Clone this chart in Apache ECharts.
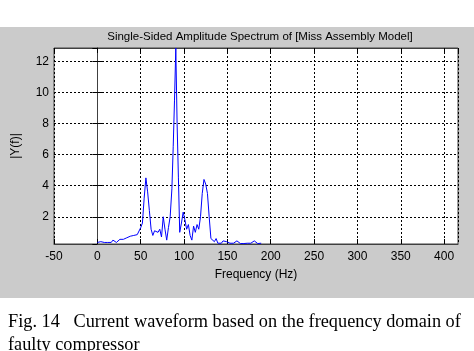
<!DOCTYPE html>
<html>
<head>
<meta charset="utf-8">
<script src="https://cdn.jsdelivr.net/npm/echarts@6/dist/echarts.min.js"></script>
<style>
  html, body { margin: 0; padding: 0; background: #fff; }
  #chart { width: 474px; height: 351px; }
</style>
</head>
<body>
<div id="chart"></div>
<script>
// (Hz / |Y(f)|)
const freqHz = [
  0, 2, 4, 6, 8, 10, 12, 14, 16, 18, 20, 22, 24, 26, 28, 30, 32, 34, 36, 38,
  40, 42, 44, 46, 48, 50, 52, 54, 56, 58, 60, 62, 64, 66, 68, 70, 72, 74, 76, 78,
  80, 82, 84, 86, 87.5, 89, 90.5, 92, 93.5, 95, 97, 99, 101, 103, 105, 107, 109, 111, 113, 115,
  117, 119, 121, 123, 125, 127, 129, 131, 133, 135, 137, 139, 141, 143, 145, 147, 149, 151, 153, 155,
  157, 159, 161, 163, 165, 167, 169, 171, 173, 175, 177, 179, 181, 183, 185, 187, 189
];
const amplitude = [
  0.35, 0.3, 0.4, 0.3, 0.35, 0.45, 0.35, 0.3, 0.35, 0.5, 0.4, 0.35, 0.45, 0.55, 0.6, 0.55, 0.65, 0.65, 0.7, 0.75,
  0.7, 0.8, 0.75, 0.85, 0.8, 1.3, 1.6, 3.2, 4.5, 3.6, 2.4, 1.2, 0.8, 1.1, 1.2, 1.0, 1.2, 0.7, 2.0, 1.2,
  0.5, 1.3, 2.0, 3.8, 6.5, 9.5, 12.85, 8.0, 4.5, 1.0, 1.6, 2.3, 1.8, 1.2, 1.5, 0.8, 0.5, 1.4, 1.0, 1.5,
  1.2, 2.0, 3.5, 4.4, 4.1, 3.5, 2.0, 0.6, 0.5, 0.4, 0.6, 0.3, 0.28, 0.3, 0.45, 0.55, 0.4, 0.28, 0.3, 0.28,
  0.3, 0.35, 0.45, 0.4, 0.28, 0.3, 0.28, 0.28, 0.3, 0.28, 0.3, 0.4, 0.45, 0.35, 0.28, 0.3, 0.3
];
const xTicks = { min: -50, max: 416, step: 50 };
const yRange = { min: 0.25, max: 12.85 };

const titleText = 'Single-Sided Amplitude Spectrum of [Miss Assembly Model]';
const captionLines = [
  'Fig. 14   Current waveform based on the frequency domain of',
  'faulty compressor'
];

let myChart = echarts.init(document.getElementById('chart'));

const gridDash = { color: '#000', width: 1, type: [2, 2] };
const frame = { color: '#404040', width: 1 };
const sans = 'Liberation Sans';

let option = {
  animation: false,
  backgroundColor: '#fff',
  title: {
    text: titleText,
    left: 255,
    top: 26,
    textAlign: 'center',
    textStyle: { fontFamily: sans, fontSize: 11.5, fontWeight: 'normal', color: '#000' }
  },
  graphic: [
    {
      type: 'rect', z: -100, silent: true,
      shape: { x: 0, y: 27, width: 474, height: 271 },
      style: { fill: '#cbcbcb' }
    },
    {
      type: 'text', left: 8, top: 313,
      style: { text: captionLines[0], font: '18.3px "Liberation Serif"', fill: '#000' }
    },
    {
      type: 'text', left: 8, top: 336,
      style: { text: captionLines[1], font: '18.3px "Liberation Serif"', fill: '#000' }
    }
  ],
  grid: {
    left: 54, right: 16, top: 48, bottom: 107,
    show: true, backgroundColor: '#fff', borderColor: '#404040', borderWidth: 1
  },
  xAxis: [
    {
      type: 'value',
      min: xTicks.min, max: xTicks.max, interval: xTicks.step,
      name: 'Frequency (Hz)',
      nameLocation: 'middle',
      nameGap: 25,
      nameTextStyle: { fontFamily: sans, fontSize: 12, color: '#000' },
      axisLine: { lineStyle: frame },
      axisTick: { inside: true, length: 5, lineStyle: { color: '#000' } },
      axisLabel: { fontFamily: sans, fontSize: 12, color: '#000', margin: 7, showMaxLabel: false },
      splitLine: { show: true, lineStyle: gridDash }
    },
    {
      type: 'value', position: 'top',
      min: xTicks.min, max: xTicks.max, interval: xTicks.step,
      axisLine: { lineStyle: frame },
      axisTick: { inside: true, length: 5, lineStyle: { color: '#000' } },
      axisLabel: { show: false },
      splitLine: { show: false }
    }
  ],
  yAxis: [
    {
      type: 'value',
      min: yRange.min, max: yRange.max, splitNumber: 6,
      name: '|Y(f)|',
      nameLocation: 'middle',
      nameGap: 32,
      nameRotate: 90,
      nameTextStyle: { fontFamily: sans, fontSize: 12, color: '#000' },
      axisLine: { show: true, lineStyle: frame },
      axisTick: { show: true, inside: true, length: 5, lineStyle: { color: '#000' } },
      axisLabel: { fontFamily: sans, fontSize: 12, color: '#000', margin: 5, showMinLabel: false, showMaxLabel: false },
      splitLine: { show: true, lineStyle: gridDash }
    },
    {
      type: 'value', position: 'right',
      min: yRange.min, max: yRange.max, splitNumber: 6,
      axisLine: { show: true, lineStyle: frame },
      axisTick: { show: true, inside: true, length: 5, lineStyle: { color: '#000' } },
      axisLabel: { show: false },
      splitLine: { show: false }
    }
  ],
  series: [
    {
      type: 'line',
      data: freqHz.map((f, i) => [f, amplitude[i]]),
      showSymbol: false,
      clip: true,
      lineStyle: { color: '#0000ff', width: 1 }
    }
  ]
};

option && myChart.setOption(option);
</script>
</body>
</html>
